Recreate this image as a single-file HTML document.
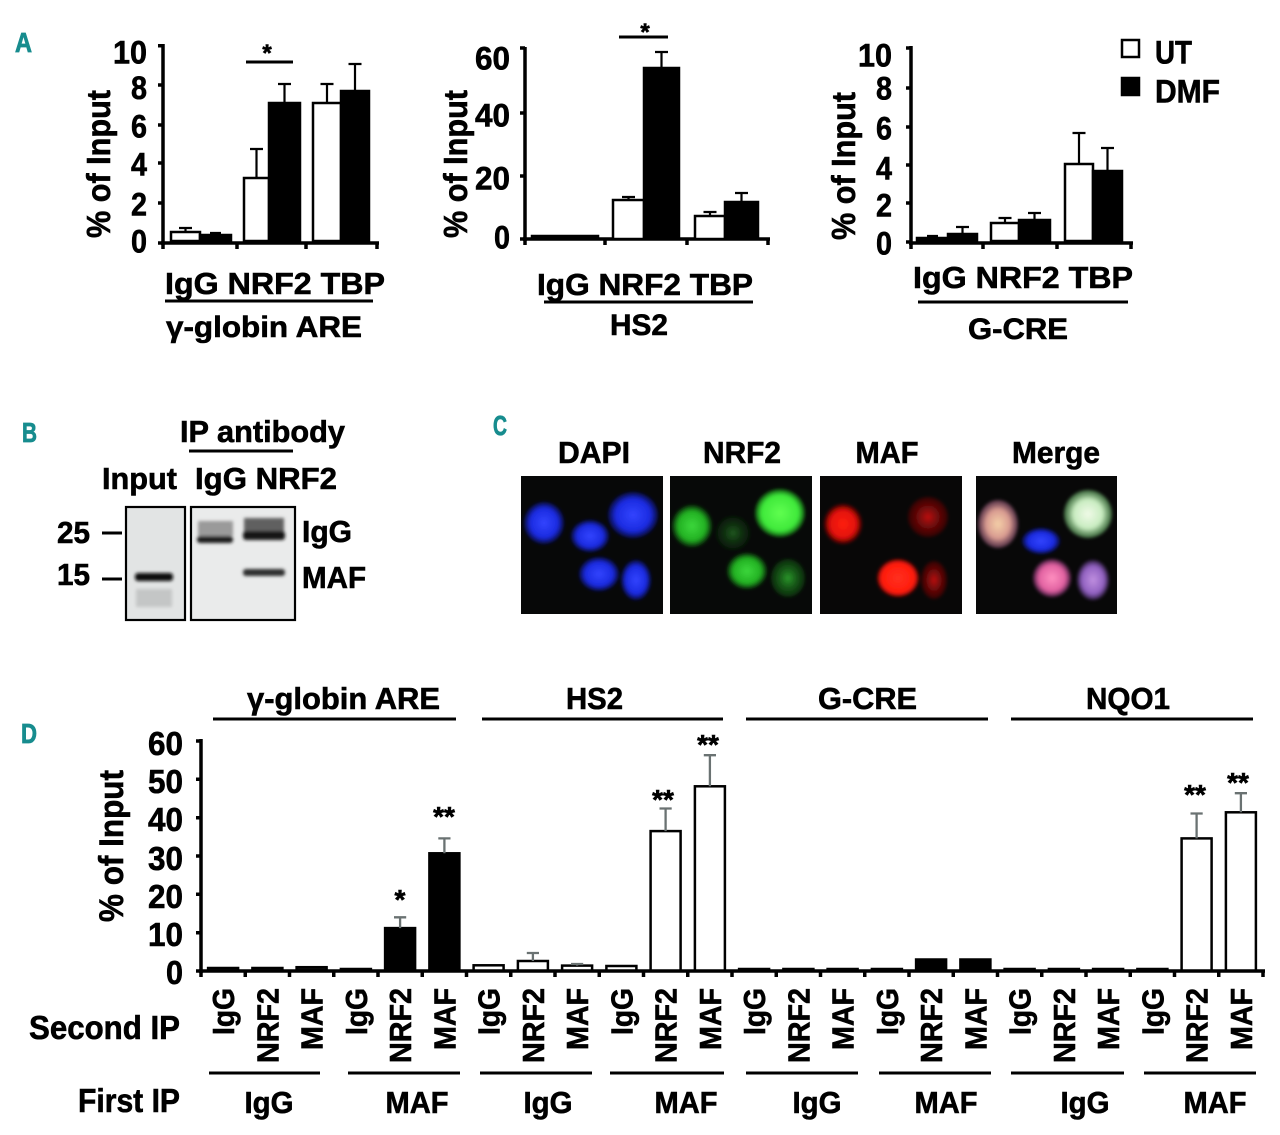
<!DOCTYPE html>
<html>
<head>
<meta charset="utf-8">
<style>
html,body{margin:0;padding:0;background:#fff;}
svg{display:block;}
text{font-family:"Liberation Sans",Arial,sans-serif;font-weight:bold;fill:#000;stroke:#000;stroke-width:0.6px;}
.L{fill:#178c8e;stroke:#178c8e;stroke-width:0.8px;}
</style>
</head>
<body>
<svg width="1280" height="1135" viewBox="0 0 1280 1135" xmlns="http://www.w3.org/2000/svg">
<defs>
  <filter id="bl" x="-30%" y="-30%" width="160%" height="160%"><feGaussianBlur stdDeviation="1.6"/></filter>
  <radialGradient id="gBlue"><stop offset="0" stop-color="#3345ff"/><stop offset="0.7" stop-color="#1a2ae0"/><stop offset="1" stop-color="#0c1690" stop-opacity="0.5"/></radialGradient>
  <radialGradient id="gG1"><stop offset="0" stop-color="#3cd83c"/><stop offset="0.7" stop-color="#22b022"/><stop offset="1" stop-color="#106010" stop-opacity="0.5"/></radialGradient>
  <radialGradient id="gG2"><stop offset="0" stop-color="#60ff50"/><stop offset="0.75" stop-color="#3ee83a"/><stop offset="1" stop-color="#189018" stop-opacity="0.6"/></radialGradient>
  <radialGradient id="gG3"><stop offset="0" stop-color="#1e5a1e"/><stop offset="1" stop-color="#0c2a0c" stop-opacity="0.4"/></radialGradient>
  <radialGradient id="gG4"><stop offset="0" stop-color="#2a9a2a"/><stop offset="1" stop-color="#105010" stop-opacity="0.5"/></radialGradient>
  <radialGradient id="gR1"><stop offset="0" stop-color="#ff2010"/><stop offset="0.7" stop-color="#e01008"/><stop offset="1" stop-color="#800404" stop-opacity="0.5"/></radialGradient>
  <radialGradient id="gR2"><stop offset="0" stop-color="#ff3020"/><stop offset="0.8" stop-color="#ff1a0a"/><stop offset="1" stop-color="#a00808" stop-opacity="0.6"/></radialGradient>
  <radialGradient id="gR3"><stop offset="0" stop-color="#c01010"/><stop offset="1" stop-color="#600404" stop-opacity="0.5"/></radialGradient>
  <radialGradient id="gM1"><stop offset="0" stop-color="#f4d0a8"/><stop offset="0.6" stop-color="#d89a90"/><stop offset="1" stop-color="#8a5070" stop-opacity="0.6"/></radialGradient>
  <radialGradient id="gM2"><stop offset="0" stop-color="#f0fae8"/><stop offset="0.6" stop-color="#c8ecc0"/><stop offset="1" stop-color="#60a860" stop-opacity="0.6"/></radialGradient>
  <radialGradient id="gM3"><stop offset="0" stop-color="#ff90c0"/><stop offset="0.7" stop-color="#e060a0"/><stop offset="1" stop-color="#803070" stop-opacity="0.6"/></radialGradient>
  <radialGradient id="gM4"><stop offset="0" stop-color="#c090e0"/><stop offset="0.7" stop-color="#9060c0"/><stop offset="1" stop-color="#503070" stop-opacity="0.6"/></radialGradient>
</defs>

<!-- ================= PANEL A ================= -->
<text class="L" x="15" y="52" font-size="28" textLength="17" lengthAdjust="spacingAndGlyphs">A</text>

<!-- A1 -->
<g font-size="32" text-anchor="end">
  <text x="147" y="63.5" textLength="34" lengthAdjust="spacingAndGlyphs">10</text>
  <text x="147" y="99" textLength="16" lengthAdjust="spacingAndGlyphs">8</text>
  <text x="147" y="137.5" textLength="16" lengthAdjust="spacingAndGlyphs">6</text>
  <text x="147" y="175.5" textLength="16" lengthAdjust="spacingAndGlyphs">4</text>
  <text x="147" y="215.5" textLength="16" lengthAdjust="spacingAndGlyphs">2</text>
  <text x="147" y="252.5" textLength="16" lengthAdjust="spacingAndGlyphs">0</text>
</g>
<text transform="translate(110,164) rotate(-90)" font-size="33" text-anchor="middle" textLength="148" lengthAdjust="spacingAndGlyphs">% of Input</text>
<path d="M163 44 V245 M158 45.7 H163 M158 85 H163 M158 125 H163 M158 163 H163 M158 203 H163 M158 243 H163" stroke="#000" stroke-width="3.5" fill="none"/>
<path d="M161 243 H379 M163 243 v6 M237 243 v6 M306 243 v6 M377 243 v6" stroke="#000" stroke-width="3.5" fill="none"/>
<g stroke="#000" stroke-width="2.5">
  <rect x="171" y="232" width="29" height="9" fill="#fff"/>
  <rect x="200" y="235" width="31" height="6" fill="#000"/>
  <rect x="244" y="178" width="25" height="63" fill="#fff"/>
  <rect x="269" y="103" width="31" height="138" fill="#000"/>
  <rect x="313" y="103" width="28" height="138" fill="#fff"/>
  <rect x="341" y="91" width="28" height="150" fill="#000"/>
</g>
<path d="M185.5 232 V228 M179 228 H192 M215.5 235 V233 M210 233 H221 M256.5 178 V149 M250 149 H263 M284.5 103 V84 M278 84 H291 M327 103 V84 M320.5 84 H333.5 M355 91 V64 M348.5 64 H361.5" stroke="#000" stroke-width="2.2" fill="none"/>
<path d="M246 62 H293" stroke="#000" stroke-width="3"/>
<text x="267" y="61" font-size="24" text-anchor="middle">*</text>
<text x="165" y="294" font-size="31" textLength="220" lengthAdjust="spacingAndGlyphs">IgG  NRF2 TBP</text>
<path d="M165 301 H373" stroke="#000" stroke-width="3"/>
<text x="166" y="337" font-size="30" textLength="196" lengthAdjust="spacingAndGlyphs">γ-globin ARE</text>

<!-- A2 -->
<g font-size="32" text-anchor="end">
  <text x="510" y="69.5" textLength="35" lengthAdjust="spacingAndGlyphs">60</text>
  <text x="510" y="126.5" textLength="35" lengthAdjust="spacingAndGlyphs">40</text>
  <text x="510" y="189.5" textLength="35" lengthAdjust="spacingAndGlyphs">20</text>
  <text x="510" y="248.5" textLength="16" lengthAdjust="spacingAndGlyphs">0</text>
</g>
<text transform="translate(467,164) rotate(-90)" font-size="33" text-anchor="middle" textLength="148" lengthAdjust="spacingAndGlyphs">% of Input</text>
<path d="M525 47 V241 M520 48 H525 M520 113 H525 M520 176 H525 M520 239 H525" stroke="#000" stroke-width="3.5" fill="none"/>
<path d="M523 239 H770 M525 239 v6 M605 239 v6 M687 239 v6 M768 239 v6" stroke="#000" stroke-width="3.5" fill="none"/>
<g stroke="#000" stroke-width="2.5">
  <rect x="532" y="236" width="66" height="3" fill="#000"/>
  <rect x="613" y="200" width="31" height="39" fill="#fff"/>
  <rect x="644" y="68" width="35" height="171" fill="#000"/>
  <rect x="695" y="216" width="30" height="23" fill="#fff"/>
  <rect x="725" y="202" width="33" height="37" fill="#000"/>
</g>
<path d="M628.5 200 V197 M622 197 H635 M661.5 68 V52 M655 52 H668 M710 216 V212 M703.5 212 H716.5 M741.5 202 V193 M735 193 H748" stroke="#000" stroke-width="2.2" fill="none"/>
<path d="M619 37 H668" stroke="#000" stroke-width="3"/>
<text x="645" y="40" font-size="24" text-anchor="middle">*</text>
<text x="537" y="295" font-size="31" textLength="216" lengthAdjust="spacingAndGlyphs">IgG  NRF2 TBP</text>
<path d="M544 302 H753" stroke="#000" stroke-width="3"/>
<text x="610" y="335" font-size="30" textLength="58" lengthAdjust="spacingAndGlyphs">HS2</text>

<!-- A3 -->
<g font-size="32" text-anchor="end">
  <text x="892" y="66.5" textLength="34" lengthAdjust="spacingAndGlyphs">10</text>
  <text x="892" y="99.5" textLength="16" lengthAdjust="spacingAndGlyphs">8</text>
  <text x="892" y="139.5" textLength="16" lengthAdjust="spacingAndGlyphs">6</text>
  <text x="892" y="179.5" textLength="16" lengthAdjust="spacingAndGlyphs">4</text>
  <text x="892" y="216.5" textLength="16" lengthAdjust="spacingAndGlyphs">2</text>
  <text x="892" y="254.5" textLength="16" lengthAdjust="spacingAndGlyphs">0</text>
</g>
<text transform="translate(855,166) rotate(-90)" font-size="33" text-anchor="middle" textLength="148" lengthAdjust="spacingAndGlyphs">% of Input</text>
<path d="M911 46 V245 M906 48 H911 M906 88 H911 M906 127 H911 M906 165 H911 M906 203 H911 M906 242 H911" stroke="#000" stroke-width="3.5" fill="none"/>
<path d="M909 243 H1133 M911 243 v6 M983 243 v6 M1057 243 v6 M1131 243 v6" stroke="#000" stroke-width="3.5" fill="none"/>
<g stroke="#000" stroke-width="2.5">
  <rect x="917" y="238" width="31" height="3" fill="#000"/>
  <rect x="948" y="234" width="29" height="7" fill="#000"/>
  <rect x="991" y="223" width="28" height="18" fill="#fff"/>
  <rect x="1019" y="220" width="31" height="21" fill="#000"/>
  <rect x="1065" y="164" width="28" height="77" fill="#fff"/>
  <rect x="1093" y="171" width="29" height="70" fill="#000"/>
</g>
<path d="M932.5 238 V236 M927 236 H938 M962.5 234 V227 M956 227 H969 M1005 223 V218 M998.5 218 H1011.5 M1034.5 220 V213 M1028 213 H1041 M1079 164 V133 M1072.5 133 H1085.5 M1107.5 171 V148 M1101 148 H1114" stroke="#000" stroke-width="2.2" fill="none"/>
<text x="913" y="288" font-size="31" textLength="220" lengthAdjust="spacingAndGlyphs">IgG  NRF2 TBP</text>
<path d="M918 302 H1128" stroke="#000" stroke-width="3"/>
<text x="968" y="339" font-size="30" textLength="100" lengthAdjust="spacingAndGlyphs">G-CRE</text>

<!-- Legend -->
<rect x="1122" y="40" width="17" height="17" fill="#fff" stroke="#000" stroke-width="2.5"/>
<rect x="1122" y="78" width="17" height="17" fill="#000" stroke="#000" stroke-width="2.5"/>
<text x="1155" y="63.5" font-size="32" textLength="37" lengthAdjust="spacingAndGlyphs">UT</text>
<text x="1155" y="102.5" font-size="32" textLength="65" lengthAdjust="spacingAndGlyphs">DMF</text>

<!-- ================= PANEL B ================= -->
<text class="L" x="22" y="442" font-size="28" textLength="15" lengthAdjust="spacingAndGlyphs">B</text>
<text x="180" y="442" font-size="31" textLength="165" lengthAdjust="spacingAndGlyphs">IP antibody</text>
<path d="M189 451 H293" stroke="#000" stroke-width="3"/>
<text x="102" y="489" font-size="31" textLength="75" lengthAdjust="spacingAndGlyphs">Input</text>
<text x="195" y="489" font-size="31" textLength="142" lengthAdjust="spacingAndGlyphs">IgG NRF2</text>
<text x="90" y="543" font-size="31" text-anchor="end" textLength="33" lengthAdjust="spacingAndGlyphs">25</text>
<text x="90" y="585" font-size="31" text-anchor="end" textLength="33" lengthAdjust="spacingAndGlyphs">15</text>
<path d="M102 533 H122 M102 579 H122" stroke="#000" stroke-width="3"/>
<text x="302" y="542" font-size="31" textLength="50" lengthAdjust="spacingAndGlyphs">IgG</text>
<text x="302" y="588" font-size="31" textLength="64" lengthAdjust="spacingAndGlyphs">MAF</text>
<rect x="126" y="507" width="59" height="113" fill="#e2e4e4"/>
<rect x="191" y="507" width="104" height="113" fill="#eaebeb"/>
<g filter="url(#bl)">
  <rect x="136" y="589" width="36" height="18" fill="#c4c6c6"/>
  <rect x="135" y="573" width="38" height="8" rx="3" fill="#111"/>
  <rect x="198" y="521" width="35" height="15" fill="#9a9a9a"/>
  <rect x="197" y="536" width="36" height="7" rx="3" fill="#1e1e1e"/>
  <rect x="244" y="518" width="40" height="14" fill="#606060"/>
  <rect x="243" y="531" width="42" height="9" rx="3" fill="#181818"/>
  <rect x="243" y="569" width="42" height="7" rx="3" fill="#2e2e2e"/>
</g>
<rect x="126" y="507" width="59" height="113" fill="none" stroke="#000" stroke-width="2.2"/>
<rect x="191" y="507" width="104" height="113" fill="none" stroke="#000" stroke-width="2.2"/>

<!-- ================= PANEL C ================= -->
<text class="L" x="493" y="435" font-size="28" textLength="14" lengthAdjust="spacingAndGlyphs">C</text>
<g font-size="31" text-anchor="middle">
  <text x="594" y="463" textLength="72" lengthAdjust="spacingAndGlyphs">DAPI</text>
  <text x="742" y="463" textLength="78" lengthAdjust="spacingAndGlyphs">NRF2</text>
  <text x="887" y="463" textLength="63" lengthAdjust="spacingAndGlyphs">MAF</text>
  <text x="1056" y="463" textLength="88" lengthAdjust="spacingAndGlyphs">Merge</text>
</g>
<rect x="521" y="476" width="142" height="138" fill="#070808"/>
<rect x="670" y="476" width="142" height="138" fill="#070908"/>
<rect x="820" y="476" width="142" height="138" fill="#080707"/>
<rect x="976" y="476" width="141" height="138" fill="#080808"/>
<g filter="url(#bl)">
  <ellipse cx="544" cy="523" rx="20" ry="21" fill="url(#gBlue)"/>
  <ellipse cx="590" cy="536" rx="19" ry="16" fill="url(#gBlue)"/>
  <ellipse cx="633" cy="515" rx="25" ry="23" fill="url(#gBlue)"/>
  <ellipse cx="599" cy="574" rx="20" ry="17" fill="url(#gBlue)"/>
  <ellipse cx="636" cy="580" rx="15" ry="20" fill="url(#gBlue)"/>

  <ellipse cx="692" cy="526" rx="20" ry="21" fill="url(#gG1)"/>
  <ellipse cx="733" cy="533" rx="17" ry="17" fill="url(#gG3)"/>
  <ellipse cx="780" cy="513" rx="25" ry="24" fill="url(#gG2)"/>
  <ellipse cx="747" cy="571" rx="20" ry="18" fill="url(#gG1)"/>
  <ellipse cx="788" cy="578" rx="17" ry="19" fill="url(#gG4)"/>

  <ellipse cx="843" cy="524" rx="19" ry="20" fill="url(#gR1)"/>
  <ellipse cx="928" cy="517" rx="20" ry="20" fill="url(#gR3)"/>
  <ellipse cx="898" cy="578" rx="21" ry="19" fill="url(#gR2)"/>
  <ellipse cx="934" cy="580" rx="13" ry="19" fill="url(#gR3)"/>

  <ellipse cx="998" cy="524" rx="20" ry="24" fill="url(#gM1)"/>
  <ellipse cx="1041" cy="541" rx="19" ry="13" fill="url(#gBlue)"/>
  <ellipse cx="1088" cy="514" rx="24" ry="24" fill="url(#gM2)"/>
  <ellipse cx="1052" cy="578" rx="19" ry="19" fill="url(#gM3)"/>
  <ellipse cx="1093" cy="580" rx="16" ry="20" fill="url(#gM4)"/>
</g>

<!-- ================= PANEL D ================= -->
<text class="L" x="21" y="743" font-size="28" textLength="16" lengthAdjust="spacingAndGlyphs">D</text>
<g font-size="31">
  <text x="247" y="709" textLength="193" lengthAdjust="spacingAndGlyphs">γ-globin ARE</text>
  <text x="566" y="709" textLength="57" lengthAdjust="spacingAndGlyphs">HS2</text>
  <text x="818" y="709" textLength="99" lengthAdjust="spacingAndGlyphs">G-CRE</text>
  <text x="1086" y="709" textLength="84" lengthAdjust="spacingAndGlyphs">NQO1</text>
</g>
<path d="M213 719 H456 M482 719 H723 M746 719 H988 M1011 719 H1253" stroke="#000" stroke-width="3"/>

<g font-size="33" text-anchor="end">
  <text x="183" y="755" textLength="35" lengthAdjust="spacingAndGlyphs">60</text>
  <text x="183" y="793" textLength="35" lengthAdjust="spacingAndGlyphs">50</text>
  <text x="183" y="831" textLength="35" lengthAdjust="spacingAndGlyphs">40</text>
  <text x="183" y="870" textLength="35" lengthAdjust="spacingAndGlyphs">30</text>
  <text x="183" y="908" textLength="35" lengthAdjust="spacingAndGlyphs">20</text>
  <text x="183" y="946" textLength="35" lengthAdjust="spacingAndGlyphs">10</text>
  <text x="183" y="984" textLength="17" lengthAdjust="spacingAndGlyphs">0</text>
</g>
<text transform="translate(123,846) rotate(-90)" font-size="34" text-anchor="middle" textLength="152" lengthAdjust="spacingAndGlyphs">% of Input</text>

<!-- bars D -->
<g stroke="#000" stroke-width="2.5">
  <rect x="208.1" y="968" width="30" height="3" fill="#222"/>
  <rect x="252.4" y="968" width="30" height="3" fill="#222"/>
  <rect x="296.6" y="967.2" width="30" height="3.8" fill="#111"/>
  <rect x="340.9" y="969" width="30" height="2" fill="#222"/>
  <rect x="385.1" y="928.1" width="30" height="42.9" fill="#000"/>
  <rect x="429.4" y="853.3" width="30" height="117.7" fill="#000"/>

  <rect x="473.6" y="965.3" width="30" height="5.7" fill="#fff"/>
  <rect x="517.9" y="961" width="30" height="10" fill="#fff"/>
  <rect x="562.1" y="965.6" width="30" height="5.4" fill="#fff"/>
  <rect x="606.4" y="966" width="30" height="5" fill="#fff"/>
  <rect x="650.6" y="831.1" width="30" height="139.9" fill="#fff"/>
  <rect x="694.9" y="786.3" width="30" height="184.7" fill="#fff"/>

  <rect x="739.1" y="969" width="30" height="2" fill="#222"/>
  <rect x="783.4" y="969" width="30" height="2" fill="#222"/>
  <rect x="827.6" y="969" width="30" height="2" fill="#222"/>
  <rect x="871.9" y="969" width="30" height="2" fill="#222"/>
  <rect x="916.1" y="959.5" width="30" height="11.5" fill="#000"/>
  <rect x="960.4" y="959.5" width="30" height="11.5" fill="#000"/>

  <rect x="1004.6" y="969" width="30" height="2" fill="#222"/>
  <rect x="1048.9" y="969" width="30" height="2" fill="#222"/>
  <rect x="1093.1" y="969" width="30" height="2" fill="#222"/>
  <rect x="1137.4" y="969" width="30" height="2" fill="#222"/>
  <rect x="1181.6" y="838.4" width="30" height="132.6" fill="#fff"/>
  <rect x="1225.9" y="812.3" width="30" height="158.7" fill="#fff"/>
</g>
<!-- error bars D -->
<path d="M400.1 928.1 V917.3 M394 917.3 H406.2 M444.4 853.3 V838.4 M438.3 838.4 H450.5 M532.9 961 V953 M526.8 953 H539 M577.1 965.6 V964 M571 964 H583.2 M665.6 831.1 V808.5 M659.5 808.5 H671.7 M709.9 786.3 V755.2 M703.8 755.2 H716 M1196.6 838.4 V813.5 M1190.5 813.5 H1202.7 M1240.9 812.3 V793.2 M1234.8 793.2 H1247" stroke="#6a7272" stroke-width="2.3" fill="none"/>
<!-- stars D -->
<g font-size="28" text-anchor="middle">
  <text x="400" y="909">*</text>
  <text x="444" y="826">**</text>
  <text x="663" y="809">**</text>
  <text x="708" y="754">**</text>
  <text x="1195" y="804">**</text>
  <text x="1238" y="792">**</text>
</g>
<!-- axes D -->
<path d="M201 739 V973 M196 741 H201 M196 779.3 H201 M196 817.7 H201 M196 856 H201 M196 894.3 H201 M196 932.7 H201 M196 971 H201" stroke="#000" stroke-width="3.5" fill="none"/>
<path d="M199 971 H1265 M201 971 v6 M245.25 971 v6 M289.5 971 v6 M333.75 971 v6 M378 971 v6 M422.25 971 v6 M466.5 971 v6 M510.75 971 v6 M555 971 v6 M599.25 971 v6 M643.5 971 v6 M687.75 971 v6 M732 971 v6 M776.25 971 v6 M820.5 971 v6 M864.75 971 v6 M909 971 v6 M953.25 971 v6 M997.5 971 v6 M1041.75 971 v6 M1086 971 v6 M1130.25 971 v6 M1174.5 971 v6 M1218.75 971 v6 M1263 971 v6" stroke="#000" stroke-width="3.5" fill="none"/>

<!-- Second IP labels -->
<text x="29" y="1039" font-size="33" textLength="151" lengthAdjust="spacingAndGlyphs">Second IP</text>
<g font-size="31" text-anchor="end">
  <text transform="translate(234.1,988) rotate(-90)" textLength="47" lengthAdjust="spacingAndGlyphs">IgG</text>
  <text transform="translate(278.4,988) rotate(-90)" textLength="75" lengthAdjust="spacingAndGlyphs">NRF2</text>
  <text transform="translate(322.6,988) rotate(-90)" textLength="62" lengthAdjust="spacingAndGlyphs">MAF</text>
  <text transform="translate(366.9,988) rotate(-90)" textLength="47" lengthAdjust="spacingAndGlyphs">IgG</text>
  <text transform="translate(411.1,988) rotate(-90)" textLength="75" lengthAdjust="spacingAndGlyphs">NRF2</text>
  <text transform="translate(455.4,988) rotate(-90)" textLength="62" lengthAdjust="spacingAndGlyphs">MAF</text>
  <text transform="translate(499.6,988) rotate(-90)" textLength="47" lengthAdjust="spacingAndGlyphs">IgG</text>
  <text transform="translate(543.9,988) rotate(-90)" textLength="75" lengthAdjust="spacingAndGlyphs">NRF2</text>
  <text transform="translate(588.1,988) rotate(-90)" textLength="62" lengthAdjust="spacingAndGlyphs">MAF</text>
  <text transform="translate(632.4,988) rotate(-90)" textLength="47" lengthAdjust="spacingAndGlyphs">IgG</text>
  <text transform="translate(676.6,988) rotate(-90)" textLength="75" lengthAdjust="spacingAndGlyphs">NRF2</text>
  <text transform="translate(720.9,988) rotate(-90)" textLength="62" lengthAdjust="spacingAndGlyphs">MAF</text>
  <text transform="translate(765.1,988) rotate(-90)" textLength="47" lengthAdjust="spacingAndGlyphs">IgG</text>
  <text transform="translate(809.4,988) rotate(-90)" textLength="75" lengthAdjust="spacingAndGlyphs">NRF2</text>
  <text transform="translate(853.6,988) rotate(-90)" textLength="62" lengthAdjust="spacingAndGlyphs">MAF</text>
  <text transform="translate(897.9,988) rotate(-90)" textLength="47" lengthAdjust="spacingAndGlyphs">IgG</text>
  <text transform="translate(942.1,988) rotate(-90)" textLength="75" lengthAdjust="spacingAndGlyphs">NRF2</text>
  <text transform="translate(986.4,988) rotate(-90)" textLength="62" lengthAdjust="spacingAndGlyphs">MAF</text>
  <text transform="translate(1030.6,988) rotate(-90)" textLength="47" lengthAdjust="spacingAndGlyphs">IgG</text>
  <text transform="translate(1074.9,988) rotate(-90)" textLength="75" lengthAdjust="spacingAndGlyphs">NRF2</text>
  <text transform="translate(1119.1,988) rotate(-90)" textLength="62" lengthAdjust="spacingAndGlyphs">MAF</text>
  <text transform="translate(1163.4,988) rotate(-90)" textLength="47" lengthAdjust="spacingAndGlyphs">IgG</text>
  <text transform="translate(1207.6,988) rotate(-90)" textLength="75" lengthAdjust="spacingAndGlyphs">NRF2</text>
  <text transform="translate(1251.9,988) rotate(-90)" textLength="62" lengthAdjust="spacingAndGlyphs">MAF</text>
</g>
<path d="M209 1073 H320 M348 1073 H460 M480 1073 H592 M610 1073 H724 M746 1073 H858 M879 1073 H991 M1011 1073 H1124 M1144 1073 H1256" stroke="#000" stroke-width="3"/>

<!-- First IP -->
<text x="78" y="1112" font-size="33" textLength="102" lengthAdjust="spacingAndGlyphs">First IP</text>
<g font-size="31" text-anchor="middle">
  <text x="269" y="1113" textLength="49" lengthAdjust="spacingAndGlyphs">IgG</text>
  <text x="417" y="1113" textLength="63" lengthAdjust="spacingAndGlyphs">MAF</text>
  <text x="548" y="1113" textLength="49" lengthAdjust="spacingAndGlyphs">IgG</text>
  <text x="686" y="1113" textLength="63" lengthAdjust="spacingAndGlyphs">MAF</text>
  <text x="817" y="1113" textLength="49" lengthAdjust="spacingAndGlyphs">IgG</text>
  <text x="946" y="1113" textLength="63" lengthAdjust="spacingAndGlyphs">MAF</text>
  <text x="1085" y="1113" textLength="49" lengthAdjust="spacingAndGlyphs">IgG</text>
  <text x="1215" y="1113" textLength="63" lengthAdjust="spacingAndGlyphs">MAF</text>
</g>
</svg>
</body>
</html>
